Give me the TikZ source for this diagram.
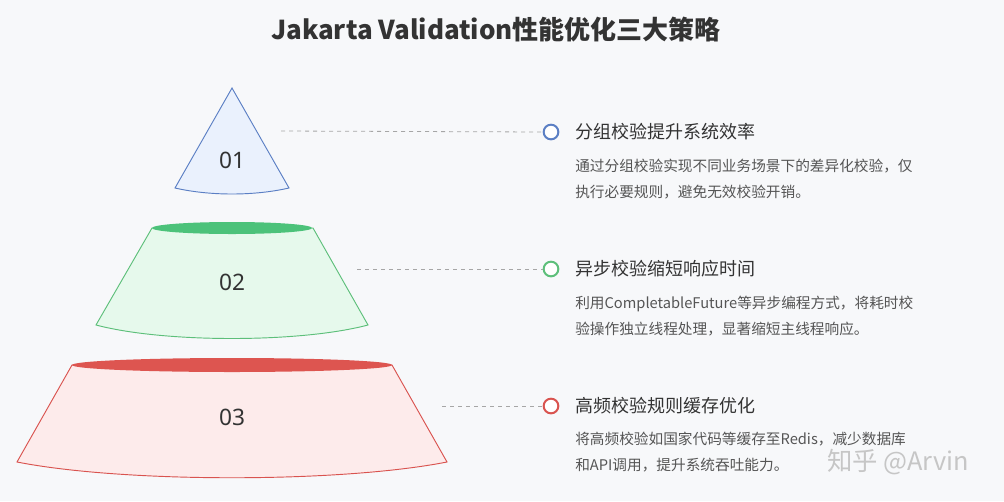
\documentclass[tikz,border=0pt]{standalone}
\usepackage{fontspec}
\setmainfont{Noto Sans CJK SC}
\newfontfamily\numfont{Noto Sans}
\definecolor{bg}{HTML}{F7F8FA}
\definecolor{bstroke}{HTML}{5B7FC4}\definecolor{bfill}{HTML}{EAF1FD}
\definecolor{gstroke}{HTML}{5DBF7A}\definecolor{gfill}{HTML}{E6F9EC}\definecolor{gtop}{HTML}{4CC27A}
\definecolor{rstroke}{HTML}{D9534F}\definecolor{rfill}{HTML}{FDEBEB}\definecolor{rtop}{HTML}{DD5550}
\definecolor{txt}{HTML}{333333}\definecolor{desc}{HTML}{555555}
\begin{document}
\begin{tikzpicture}[x=0.75pt,y=-0.75pt,
  num/.style={font=\numfont\bfseries\fontsize{17}{20}\selectfont,text=txt},
  head/.style={anchor=west,font=\fontsize{13.5}{16}\selectfont,text=txt,inner sep=0},
  descr/.style={anchor=north west,align=left,font=\fontsize{11}{19}\selectfont,text=desc,inner sep=0},
  dline/.style={draw=gray!70,dashed,line width=0.6pt},
  dot/.style={circle,draw=#1,line width=1.5pt,minimum size=11pt,inner sep=0,fill=white}]
\fill[bg] (0,0) rectangle (1004,501);
\useasboundingbox (0,0) rectangle (1004,501);
\node[font=\bfseries\fontsize{19.5}{22}\selectfont,text=txt] (title) at (496,30) {Jakarta Validation性能优化三大策略};
% tier 1
\draw[bstroke,fill=bfill,line width=0.7pt] (232,88) -- (289,188) .. controls (254,196) and (210,196) .. (175,188) -- cycle;
\node[num] (n1) at (232,160) {01};
% tier 2
\draw[gstroke,fill=gfill,line width=0.7pt] (152,228) -- (313,228) -- (368,325) .. controls (300,343) and (164,343) .. (96,325) -- cycle;
\fill[gtop] (232,228) ellipse [x radius=80, y radius=6];
\node[num] (n2) at (232,282) {02};
% tier 3
\draw[rstroke,fill=rfill,line width=0.7pt] (72,365) -- (392,365) -- (447,462) .. controls (340,483) and (124,483) .. (17,462) -- cycle;
\fill[rtop] (232,365) ellipse [x radius=160, y radius=7];
\node[num] (n3) at (232,417) {03};
% items
\node[dot=bstroke] (c1) at (551,132) {};
\node[dot=gstroke] (c2) at (551,269) {};
\node[dot=rstroke] (c3) at (551,406) {};
\coordinate (s1) at (281,131); \coordinate (s2) at (357,269); \coordinate (s3) at (442,406);
\draw[dline] (s1) -- (c1.west);
\draw[dline] (s2) -- (c2.west);
\draw[dline] (s3) -- (c3.west);
\node[head] (h1) at (575,132) {分组校验提升系统效率};
\node[head] (h2) at (575,269) {异步校验缩短响应时间};
\node[head] (h3) at (575,406) {高频校验规则缓存优化};
\node[descr] (d1) at (575,159) {通过分组校验实现不同业务场景下的差异化校验，仅\\执行必要规则，避免无效校验开销。};
\node[descr] (d2) at (575,296) {利用CompletableFuture等异步编程方式，将耗时校\\验操作独立线程处理，显著缩短主线程响应。};
\node[descr] (d3) at (575,432) {将高频校验如国家代码等缓存至Redis，减少数据库\\和API调用，提升系统吞吐能力。};
\node[font=\fontsize{19}{22}\selectfont,text=gray!45] (wm) at (898,462) {知乎 @Arvin};
\end{tikzpicture}
\end{document}
